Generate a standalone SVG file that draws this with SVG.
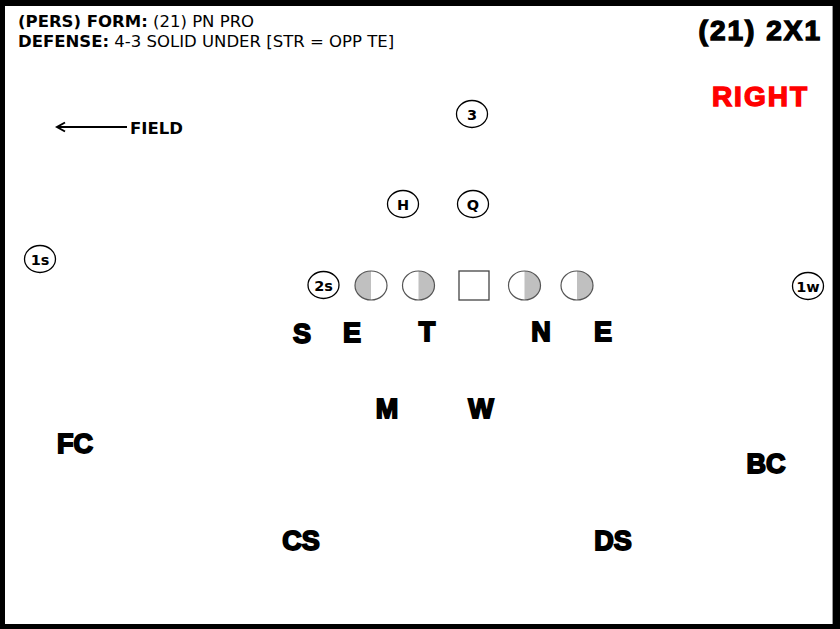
<svg xmlns="http://www.w3.org/2000/svg" width="840" height="629" viewBox="0 0 840 629">
<defs>
<style>
.hb{font-family:"DejaVu Sans",Verdana,sans-serif;font-weight:bold;font-size:16.5px;fill:#000}
.hr{font-family:"DejaVu Sans",Verdana,sans-serif;font-weight:normal;font-size:16.5px;fill:#000}
.pl{fill:#fff;stroke:#000;stroke-width:1.3}
.pt{font-family:"DejaVu Sans",Verdana,sans-serif;font-weight:bold;font-size:14.5px;fill:#000;text-anchor:middle}
.sh{fill:#c0c0c0}
.df{font-family:"Liberation Sans",Arial,sans-serif;font-weight:bold;font-size:27px;fill:#000;stroke:#000;stroke-width:1.8;text-anchor:middle}
.tt{font-family:"Liberation Sans",Arial,sans-serif;font-weight:bold;font-size:28px;stroke-width:1.4;letter-spacing:2px;text-anchor:end}
</style>
<marker id="ah" markerWidth="12" markerHeight="12" refX="10" refY="6" orient="auto" markerUnits="userSpaceOnUse">
<path d="M2,1.5 L10,6 L2,10.5" fill="none" stroke="#000" stroke-width="2"/>
</marker>
</defs>
<rect x="0" y="0" width="840" height="629" fill="#fff"/>
<path d="M0,0 H840 V629 H0 Z M5,6 V624 H833 V6 Z" fill="#000" fill-rule="evenodd"/>
<line x1="832.5" y1="6" x2="832.5" y2="624" stroke="#999" stroke-width="1"/>

<g id="header">
<text x="18" y="27"><tspan class="hb">(PERS) FORM:</tspan><tspan class="hr"> (21) PN PRO</tspan></text>
<text x="18" y="47"><tspan class="hb">DEFENSE:</tspan><tspan class="hr"> 4-3 SOLID UNDER [STR = OPP TE]</tspan></text>
<text x="822" y="40" class="tt" style="fill:#000;stroke:#000">(21) 2X1</text>
<text x="809" y="106" class="tt" style="fill:#ff0000;stroke:#ff0000">RIGHT</text>
</g>

<g id="connectors">
<line x1="127" y1="127" x2="57" y2="127" stroke="#000" stroke-width="1.8" marker-end="url(#ah)"/>
</g>
<g id="field-label">
<text x="130" y="134" class="hb">FIELD</text>
</g>

<g id="p3"><ellipse class="pl" cx="472" cy="114" rx="15.5" ry="13.5"/><text class="pt" x="472" y="119.5">3</text></g>
<g id="pH"><ellipse class="pl" cx="403" cy="204" rx="15.5" ry="13.5"/><text class="pt" x="403" y="209.5">H</text></g>
<g id="pQ"><ellipse class="pl" cx="473" cy="204" rx="15.5" ry="13.5"/><text class="pt" x="473" y="209.5">Q</text></g>
<g id="p1s"><ellipse class="pl" cx="40" cy="259" rx="15.5" ry="13.5"/><text class="pt" x="40" y="264.5">1s</text></g>
<g id="p2s"><ellipse class="pl" cx="323.5" cy="285" rx="15.5" ry="13.5"/><text class="pt" x="323.5" y="290.5">2s</text></g>
<g id="p1w"><ellipse class="pl" cx="808" cy="286" rx="15.5" ry="13.5"/><text class="pt" x="808" y="291.5">1w</text></g>

<g id="ol1"><path class="sh" d="M371,271 A16,14.5 0 0 0 371,300 Z"/><ellipse cx="371" cy="285.5" rx="16" ry="14.5" fill="none" stroke="#555" stroke-width="1.2"/></g>
<g id="ol2"><path class="sh" d="M418.5,271 A16,14.5 0 0 1 418.5,300 Z"/><ellipse cx="418.5" cy="285.5" rx="16" ry="14.5" fill="none" stroke="#555" stroke-width="1.2"/></g>
<g id="center"><rect x="459" y="271" width="30" height="29" fill="#fff" stroke="#444" stroke-width="1.3"/></g>
<g id="ol4"><path class="sh" d="M524.5,271 A16,14.5 0 0 1 524.5,300 Z"/><ellipse cx="524.5" cy="285.5" rx="16" ry="14.5" fill="none" stroke="#555" stroke-width="1.2"/></g>
<g id="ol5"><path class="sh" d="M577,271 A16,14.5 0 0 1 577,300 Z"/><ellipse cx="577" cy="285.5" rx="16" ry="14.5" fill="none" stroke="#555" stroke-width="1.2"/></g>

<g id="dS"><text class="df" x="302" y="343">S</text></g>
<g id="dE1"><text class="df" x="352" y="342">E</text></g>
<g id="dT"><text class="df" x="427" y="341">T</text></g>
<g id="dN"><text class="df" x="541" y="341">N</text></g>
<g id="dE2"><text class="df" x="603" y="341">E</text></g>
<g id="dM"><text class="df" x="387" y="418">M</text></g>
<g id="dW"><text class="df" x="481" y="418">W</text></g>
<g id="dFC"><text class="df" x="75" y="453">FC</text></g>
<g id="dBC"><text class="df" x="766" y="473">BC</text></g>
<g id="dCS"><text class="df" x="301" y="550">CS</text></g>
<g id="dDS"><text class="df" x="613" y="550">DS</text></g>
</svg>
